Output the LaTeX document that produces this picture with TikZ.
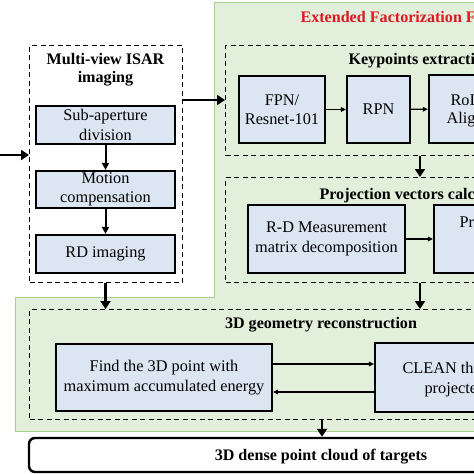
\documentclass[tikz,border=0pt]{standalone}
\usepackage{fontspec}
\setmainfont{Liberation Serif}
\usetikzlibrary{arrows.meta}
\definecolor{gfill}{RGB}{226,239,218}
\definecolor{gedge}{RGB}{168,208,142}
\definecolor{bfill}{RGB}{220,230,243}
\definecolor{tred}{RGB}{222,24,34}
\tikzset{
  txt/.style={font=\fontsize{16.3}{19.5}\selectfont},
  btxt/.style={font=\fontsize{16.1}{18.5}\selectfont\bfseries},
  bluebox/.style={draw, line width=2.2pt, fill=bfill, inner sep=0pt, align=center, txt},
  dbox/.style={draw, line width=1.3pt, dash pattern=on 5pt off 3.5pt, inner sep=0pt, anchor=north west},
  thick arrow/.style={line width=2.6pt, -{Triangle[length=8pt,width=10pt]}},
  thin arrow/.style={line width=1.3pt, -{Triangle[length=5pt,width=4.5pt]}},
}
\begin{document}
\begin{tikzpicture}[x=1pt,y=-1pt]
\useasboundingbox (0,0) rectangle (474,474);
\clip (0,0) rectangle (474,474);
% green area
\draw[fill=gfill, draw=gedge, line width=1pt] (214,2) -- (520,2) -- (520,431) -- (15,431) -- (15,297) -- (214,297) -- cycle;
% dashed groups
\node[dbox, minimum width=153, minimum height=237] (isar) at (29,45) {};
\node[dbox, minimum width=290, minimum height=110] (kp) at (225,45) {};
\node[dbox, minimum width=290, minimum height=105] (proj) at (225,177) {};
\node[dbox, minimum width=480, minimum height=110] (geo) at (29,309) {};
% titles
\node[btxt, text=tred, anchor=base west] (eff) at (297,22) {Extended Factorization F};
\node[btxt, align=center, anchor=north, inner sep=0pt] (isart) at (105.5,53) {Multi-view ISAR\\imaging};
\node[btxt, anchor=base west] (kpt) at (345,64) {Keypoints extracti};
\node[btxt, anchor=base west] (projt) at (316,199) {Projection vectors calc};
\node[btxt, anchor=base] (geot) at (321,328) {3D geometry reconstruction};
% blue boxes
\node[bluebox, minimum width=139, minimum height=38] (sub) at (105.5,125) {Sub-aperture\\division};
\node[bluebox, minimum width=139, minimum height=37] (mot) at (105.5,189.5) {Motion\\compensation};
\node[bluebox, minimum width=139, minimum height=38] (rd) at (105.5,254) {RD imaging};
\node[bluebox, minimum width=86, minimum height=67] (fpn) at (282,109.5) {FPN/\\Resnet-101};
\node[bluebox, minimum width=63, minimum height=67] (rpn) at (378.5,109.5) {RPN};
\node[bluebox, minimum width=63, minimum height=68] (roi) at (460.5,109) {};
\node[txt, anchor=base west] (roit1) at (447,105) {RoI};
\node[txt, anchor=base west] (roit2) at (443,123) {Alig};
\node[bluebox, minimum width=157, minimum height=68] (rdm) at (326.5,239) {R-D Measurement\\matrix decomposition};
\node[bluebox, minimum width=80, minimum height=68] (pro) at (474,239) {};
\node[txt, anchor=base west] (prot) at (456,227) {Pro};
\node[bluebox, minimum width=216, minimum height=67] (find) at (164,377.5) {Find the 3D point with\\maximum accumulated energy};
\node[bluebox, minimum width=216, minimum height=69] (clean) at (483,377.5) {};
\node[txt, anchor=base west] (cleant1) at (399,373) {CLEAN the};
\node[txt, anchor=base west] (cleant2) at (421,393) {projecte};
% output box
\node[draw, line width=2.4pt, fill=white, rounded corners=6pt, minimum width=584, minimum height=34, inner sep=0pt] (out) at (321,455) {};
\node[btxt, anchor=base] (outt) at (321,460) {3D dense point cloud of targets};
% arrows
\coordinate (src) at (0,155);
\draw[thick arrow] (src) -- (src -| isar.west);
\draw[thick arrow] (isar.east |- 0,100) -- (kp.west |- 0,100);
\draw[line width=2pt, -{Triangle[length=7pt,width=7pt]}] (sub) -- (mot);
\draw[line width=2pt, -{Triangle[length=7pt,width=7pt]}] (mot) -- (rd);
\draw[thick arrow] (isar.south -| rd) -- (geo.north -| rd);
\draw[thin arrow] (fpn) -- (rpn);
\draw[thin arrow] (rpn) -- (roi);
\draw[thick arrow] (kp.south -| 420,0) -- (proj.north -| 420,0);
\draw[thin arrow] (rdm) -- (pro);
\draw[thick arrow] (proj.south -| 420,0) -- (geo.north -| 420,0);
\draw[thin arrow] (find.east |- 0,364) -- (clean.west |- 0,364);
\draw[thin arrow] (clean.west |- 0,392) -- (find.east |- 0,392);
\draw[thick arrow] (geo.south -| 322,0) -- (out.north -| 322,0);
\end{tikzpicture}
\end{document}
